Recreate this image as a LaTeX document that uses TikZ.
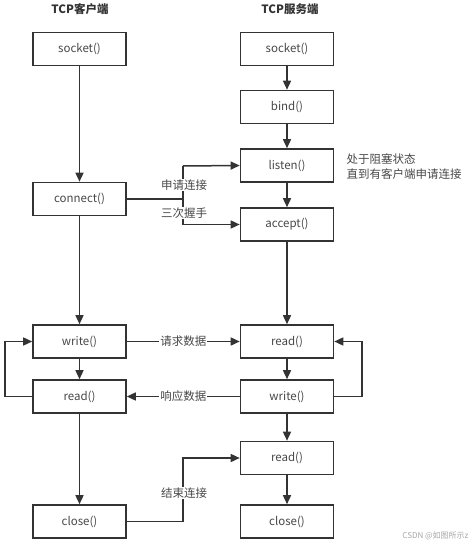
\documentclass[tikz,border=0pt]{standalone}
\usepackage{fontspec}
\setmainfont{Noto Sans CJK SC}
\usetikzlibrary{arrows.meta}
\definecolor{lncol}{HTML}{333333}
\begin{document}
\begin{tikzpicture}[x=1pt,y=-1pt,
  box/.style={draw=lncol,line width=1.6pt,minimum width=93pt,minimum height=33pt,inner sep=0pt,font=\fontsize{11.5}{13}\selectfont,text=lncol!90},
  arr/.style={draw=lncol,line width=1.5pt,-{Triangle[length=9pt,width=8pt]}},
  plain/.style={draw=lncol,line width=1.5pt},
  lab/.style={fill=white,inner sep=1pt,font=\fontsize{11.5}{13}\selectfont,text=lncol!90},
  ttl/.style={font=\bfseries\fontsize{11.5}{13}\selectfont,text=lncol}]
\useasboundingbox (0,0) rectangle (474,545);
\node[ttl] (tc) at (80,9) {TCP客户端};
\node[ttl] (ts) at (290,9) {TCP服务端};
% client
\node[box] (csock) at (79.5,49) {socket()};
\node[box] (conn) at (79.5,199) {connect()};
\node[box] (cwrite) at (79.5,341.5) {write()};
\node[box] (cread) at (79.5,396.5) {read()};
\node[box] (cclose) at (79.5,521.5) {close()};
% server
\node[box] (ssock) at (287,49) {socket()};
\node[box] (bind) at (287,107) {bind()};
\node[box] (listen) at (287,165.5) {listen()};
\node[box] (accept) at (287,224.5) {accept()};
\node[box] (sread) at (287,341.5) {read()};
\node[box] (swrite) at (287,396.5) {write()};
\node[box] (sread2) at (287,458) {read()};
\node[box] (sclose) at (287,521.5) {close()};
\node[anchor=west,align=left,font=\fontsize{11.5}{15}\selectfont,text=lncol!90] (note) at (343,166.5) {处于阻塞状态\\直到有客户端申请连接};
% vertical flows
\draw[arr] (csock) -- (conn);
\draw[arr] (conn) -- (cwrite);
\draw[arr] (cwrite) -- (cread);
\draw[arr] (cread) -- (cclose);
\draw[arr] (ssock) -- (bind);
\draw[arr] (bind) -- (listen);
\draw[arr] (listen) -- (accept);
\draw[arr] (accept) -- (sread);
\draw[arr] (sread) -- (swrite);
\draw[arr] (swrite) -- (sread2);
\draw[arr] (sread2) -- (sclose);
% handshake
\coordinate (hj) at (183,199);
\coordinate (ht) at (183,166);
\coordinate (hb) at (183,224.5);
\draw[plain] (conn.east) -- (hj);
\draw[plain] (ht) -- (hb);
\draw[arr] (ht) -- (listen.west);
\draw[arr] (hb) -- (accept.west);
\node[lab] (l1) at (184,185) {申请连接};
\node[lab] (l2) at (184,213) {三次握手};
% data exchange
\draw[arr] (cwrite.east) -- node[lab] (l3) {请求数据} (sread.west);
\draw[arr] (swrite.west) -- node[lab] (l4) {响应数据} (cread.east);
% loops
\coordinate (lx1) at (5,396.5);
\coordinate (lx2) at (5,341.5);
\draw[arr] (cread.west) -- (lx1) -- (lx2) -- (cwrite.west);
\coordinate (rx1) at (362,396.5);
\coordinate (rx2) at (362,341.5);
\draw[arr] (swrite.east) -- (rx1) -- (rx2) -- (sread.east);
% close
\coordinate (c1) at (183,521.5);
\coordinate (c2) at (183,458);
\draw[arr] (cclose.east) -- (c1) -- (c2) -- (sread2.west);
\node[lab] (l5) at (184,493) {结束连接};
% watermark
\node[anchor=east,font=\fontsize{8}{9}\selectfont,text=black!35] (wm) at (472,536) {CSDN @如图所示z};
\end{tikzpicture}
\end{document}
